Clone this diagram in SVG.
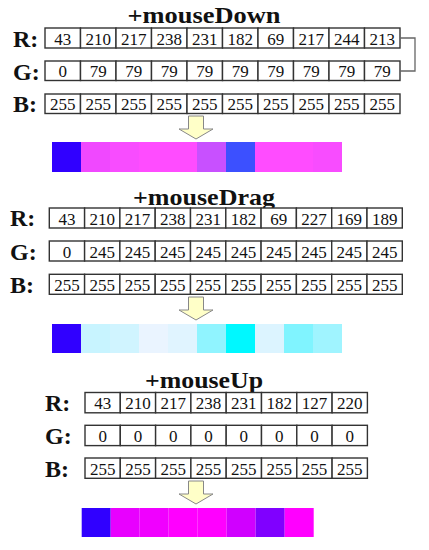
<svg xmlns="http://www.w3.org/2000/svg" width="429" height="550" viewBox="0 0 429 550">
<style>
.title{font-family:"Liberation Serif","DejaVu Serif",serif;font-weight:bold;font-size:24px;fill:#111;text-anchor:middle}
.lbl{font-family:"Liberation Serif","DejaVu Serif",serif;font-weight:bold;font-size:24px;fill:#111}
.num{font-family:"Liberation Serif","DejaVu Serif",serif;font-size:17px;fill:#111;text-anchor:middle}
.cell{fill:#fff;stroke:#333;stroke-width:1.4}
.arrow{fill:#ffffc8;stroke:#888;stroke-width:1}
.conn{fill:none;stroke:#666;stroke-width:1.3}
</style>
<defs>
<path id="arr" class="arrow" d="M-7.5,0 H7.5 V13 H17 L0,23 L-17,13 H-7.5 Z"/>
</defs>
<rect width="429" height="550" fill="#fff"/>

<!-- Section 1 -->
<g id="s1-title"><text class="title" x="204" y="23" textLength="153" lengthAdjust="spacingAndGlyphs">+mouseDown</text></g>
<g id="s1-R">
<text class="lbl" x="13" y="47">R:</text>
<rect class="cell" x="45" y="28" width="35.5" height="20"/><rect class="cell" x="80.5" y="28" width="35.5" height="20"/><rect class="cell" x="116" y="28" width="35.5" height="20"/><rect class="cell" x="151.5" y="28" width="35.5" height="20"/><rect class="cell" x="187" y="28" width="35.5" height="20"/><rect class="cell" x="222.5" y="28" width="35.5" height="20"/><rect class="cell" x="258" y="28" width="35.5" height="20"/><rect class="cell" x="293.5" y="28" width="35.5" height="20"/><rect class="cell" x="329" y="28" width="35.5" height="20"/><rect class="cell" x="364.5" y="28" width="35.5" height="20"/>
<text class="num" y="44.5"><tspan x="62.75">43</tspan><tspan x="98.25">210</tspan><tspan x="133.75">217</tspan><tspan x="169.25">238</tspan><tspan x="204.75">231</tspan><tspan x="240.25">182</tspan><tspan x="275.75">69</tspan><tspan x="311.25">217</tspan><tspan x="346.75">244</tspan><tspan x="382.25">213</tspan></text>
</g>
<g id="s1-G">
<text class="lbl" x="13" y="79.5">G:</text>
<rect class="cell" x="45" y="61" width="35.5" height="19.5"/><rect class="cell" x="80.5" y="61" width="35.5" height="19.5"/><rect class="cell" x="116" y="61" width="35.5" height="19.5"/><rect class="cell" x="151.5" y="61" width="35.5" height="19.5"/><rect class="cell" x="187" y="61" width="35.5" height="19.5"/><rect class="cell" x="222.5" y="61" width="35.5" height="19.5"/><rect class="cell" x="258" y="61" width="35.5" height="19.5"/><rect class="cell" x="293.5" y="61" width="35.5" height="19.5"/><rect class="cell" x="329" y="61" width="35.5" height="19.5"/><rect class="cell" x="364.5" y="61" width="35.5" height="19.5"/>
<text class="num" y="77"><tspan x="62.75">0</tspan><tspan x="98.25">79</tspan><tspan x="133.75">79</tspan><tspan x="169.25">79</tspan><tspan x="204.75">79</tspan><tspan x="240.25">79</tspan><tspan x="275.75">79</tspan><tspan x="311.25">79</tspan><tspan x="346.75">79</tspan><tspan x="382.25">79</tspan></text>
</g>
<g id="s1-B">
<text class="lbl" x="13" y="112">B:</text>
<rect class="cell" x="45" y="94" width="35.5" height="19.5"/><rect class="cell" x="80.5" y="94" width="35.5" height="19.5"/><rect class="cell" x="116" y="94" width="35.5" height="19.5"/><rect class="cell" x="151.5" y="94" width="35.5" height="19.5"/><rect class="cell" x="187" y="94" width="35.5" height="19.5"/><rect class="cell" x="222.5" y="94" width="35.5" height="19.5"/><rect class="cell" x="258" y="94" width="35.5" height="19.5"/><rect class="cell" x="293.5" y="94" width="35.5" height="19.5"/><rect class="cell" x="329" y="94" width="35.5" height="19.5"/><rect class="cell" x="364.5" y="94" width="35.5" height="19.5"/>
<text class="num" y="110"><tspan x="62.75">255</tspan><tspan x="98.25">255</tspan><tspan x="133.75">255</tspan><tspan x="169.25">255</tspan><tspan x="204.75">255</tspan><tspan x="240.25">255</tspan><tspan x="275.75">255</tspan><tspan x="311.25">255</tspan><tspan x="346.75">255</tspan><tspan x="382.25">255</tspan></text>
</g>
<g id="s1-bar">
<rect x="52" y="142" width="29" height="30" fill="#3000ff"/><rect x="81" y="142" width="29" height="30" fill="#f048ff"/><rect x="110" y="142" width="29" height="30" fill="#f84cff"/><rect x="139" y="142" width="29" height="30" fill="#ff4cff"/><rect x="168" y="142" width="29" height="30" fill="#ff4cff"/><rect x="197" y="142" width="29" height="30" fill="#c850ff"/><rect x="226" y="142" width="29" height="30" fill="#3c50ff"/><rect x="255" y="142" width="29" height="30" fill="#ff4cff"/><rect x="284" y="142" width="29" height="30" fill="#ff4cff"/><rect x="313" y="142" width="29" height="30" fill="#f84cff"/>
</g>

<!-- Section 2 -->
<g id="s2-title"><text class="title" x="204" y="205" textLength="142" lengthAdjust="spacingAndGlyphs">+mouseDrag</text></g>
<g id="s2-R">
<text class="lbl" x="10" y="226">R:</text>
<rect class="cell" x="49.3" y="208" width="35.3" height="20"/><rect class="cell" x="84.6" y="208" width="35.3" height="20"/><rect class="cell" x="119.9" y="208" width="35.3" height="20"/><rect class="cell" x="155.2" y="208" width="35.3" height="20"/><rect class="cell" x="190.5" y="208" width="35.3" height="20"/><rect class="cell" x="225.8" y="208" width="35.3" height="20"/><rect class="cell" x="261.1" y="208" width="35.3" height="20"/><rect class="cell" x="296.4" y="208" width="35.3" height="20"/><rect class="cell" x="331.7" y="208" width="35.3" height="20"/><rect class="cell" x="367" y="208" width="35.3" height="20"/>
<text class="num" y="224.5"><tspan x="66.95">43</tspan><tspan x="102.25">210</tspan><tspan x="137.55">217</tspan><tspan x="172.85">238</tspan><tspan x="208.15">231</tspan><tspan x="243.45">182</tspan><tspan x="278.75">69</tspan><tspan x="314.05">227</tspan><tspan x="349.35">169</tspan><tspan x="384.65">189</tspan></text>
</g>
<g id="s2-G">
<text class="lbl" x="10" y="260">G:</text>
<rect class="cell" x="49.3" y="241" width="35.3" height="20"/><rect class="cell" x="84.6" y="241" width="35.3" height="20"/><rect class="cell" x="119.9" y="241" width="35.3" height="20"/><rect class="cell" x="155.2" y="241" width="35.3" height="20"/><rect class="cell" x="190.5" y="241" width="35.3" height="20"/><rect class="cell" x="225.8" y="241" width="35.3" height="20"/><rect class="cell" x="261.1" y="241" width="35.3" height="20"/><rect class="cell" x="296.4" y="241" width="35.3" height="20"/><rect class="cell" x="331.7" y="241" width="35.3" height="20"/><rect class="cell" x="367" y="241" width="35.3" height="20"/>
<text class="num" y="257.5"><tspan x="66.95">0</tspan><tspan x="102.25">245</tspan><tspan x="137.55">245</tspan><tspan x="172.85">245</tspan><tspan x="208.15">245</tspan><tspan x="243.45">245</tspan><tspan x="278.75">245</tspan><tspan x="314.05">245</tspan><tspan x="349.35">245</tspan><tspan x="384.65">245</tspan></text>
</g>
<g id="s2-B">
<text class="lbl" x="10" y="292.5">B:</text>
<rect class="cell" x="49.3" y="274.3" width="35.3" height="20"/><rect class="cell" x="84.6" y="274.3" width="35.3" height="20"/><rect class="cell" x="119.9" y="274.3" width="35.3" height="20"/><rect class="cell" x="155.2" y="274.3" width="35.3" height="20"/><rect class="cell" x="190.5" y="274.3" width="35.3" height="20"/><rect class="cell" x="225.8" y="274.3" width="35.3" height="20"/><rect class="cell" x="261.1" y="274.3" width="35.3" height="20"/><rect class="cell" x="296.4" y="274.3" width="35.3" height="20"/><rect class="cell" x="331.7" y="274.3" width="35.3" height="20"/><rect class="cell" x="367" y="274.3" width="35.3" height="20"/>
<text class="num" y="290.8"><tspan x="66.95">255</tspan><tspan x="102.25">255</tspan><tspan x="137.55">255</tspan><tspan x="172.85">255</tspan><tspan x="208.15">255</tspan><tspan x="243.45">255</tspan><tspan x="278.75">255</tspan><tspan x="314.05">255</tspan><tspan x="349.35">255</tspan><tspan x="384.65">255</tspan></text>
</g>
<g id="s2-bar">
<rect x="52" y="324" width="29" height="29" fill="#3000ff"/><rect x="81" y="324" width="29" height="29" fill="#c8f4ff"/><rect x="110" y="324" width="29" height="29" fill="#d0f4ff"/><rect x="139" y="324" width="29" height="29" fill="#eaf4ff"/><rect x="168" y="324" width="29" height="29" fill="#e0f4ff"/><rect x="197" y="324" width="29" height="29" fill="#90f4ff"/><rect x="226" y="324" width="29" height="29" fill="#00f8ff"/><rect x="255" y="324" width="29" height="29" fill="#dcf4ff"/><rect x="284" y="324" width="29" height="29" fill="#80f4ff"/><rect x="313" y="324" width="29" height="29" fill="#a0f4ff"/>
</g>

<!-- Section 3 -->
<g id="s3-title"><text class="title" x="204" y="388" textLength="118" lengthAdjust="spacingAndGlyphs">+mouseUp</text></g>
<g id="s3-R">
<text class="lbl" x="45" y="411">R:</text>
<rect class="cell" x="85" y="392.5" width="35.3" height="20.3"/><rect class="cell" x="120.3" y="392.5" width="35.3" height="20.3"/><rect class="cell" x="155.6" y="392.5" width="35.3" height="20.3"/><rect class="cell" x="190.9" y="392.5" width="35.3" height="20.3"/><rect class="cell" x="226.2" y="392.5" width="35.3" height="20.3"/><rect class="cell" x="261.5" y="392.5" width="35.3" height="20.3"/><rect class="cell" x="296.8" y="392.5" width="35.3" height="20.3"/><rect class="cell" x="332.1" y="392.5" width="35.3" height="20.3"/>
<text class="num" y="409"><tspan x="102.65">43</tspan><tspan x="137.95">210</tspan><tspan x="173.25">217</tspan><tspan x="208.55">238</tspan><tspan x="243.85">231</tspan><tspan x="279.15">182</tspan><tspan x="314.45">127</tspan><tspan x="349.75">220</tspan></text>
</g>
<g id="s3-G">
<text class="lbl" x="45" y="444">G:</text>
<rect class="cell" x="85" y="425.3" width="35.3" height="20.3"/><rect class="cell" x="120.3" y="425.3" width="35.3" height="20.3"/><rect class="cell" x="155.6" y="425.3" width="35.3" height="20.3"/><rect class="cell" x="190.9" y="425.3" width="35.3" height="20.3"/><rect class="cell" x="226.2" y="425.3" width="35.3" height="20.3"/><rect class="cell" x="261.5" y="425.3" width="35.3" height="20.3"/><rect class="cell" x="296.8" y="425.3" width="35.3" height="20.3"/><rect class="cell" x="332.1" y="425.3" width="35.3" height="20.3"/>
<text class="num" y="441.8"><tspan x="102.65">0</tspan><tspan x="137.95">0</tspan><tspan x="173.25">0</tspan><tspan x="208.55">0</tspan><tspan x="243.85">0</tspan><tspan x="279.15">0</tspan><tspan x="314.45">0</tspan><tspan x="349.75">0</tspan></text>
</g>
<g id="s3-B">
<text class="lbl" x="45" y="477">B:</text>
<rect class="cell" x="85" y="458" width="35.3" height="20.3"/><rect class="cell" x="120.3" y="458" width="35.3" height="20.3"/><rect class="cell" x="155.6" y="458" width="35.3" height="20.3"/><rect class="cell" x="190.9" y="458" width="35.3" height="20.3"/><rect class="cell" x="226.2" y="458" width="35.3" height="20.3"/><rect class="cell" x="261.5" y="458" width="35.3" height="20.3"/><rect class="cell" x="296.8" y="458" width="35.3" height="20.3"/><rect class="cell" x="332.1" y="458" width="35.3" height="20.3"/>
<text class="num" y="474.5"><tspan x="102.65">255</tspan><tspan x="137.95">255</tspan><tspan x="173.25">255</tspan><tspan x="208.55">255</tspan><tspan x="243.85">255</tspan><tspan x="279.15">255</tspan><tspan x="314.45">255</tspan><tspan x="349.75">255</tspan></text>
</g>
<g id="s3-bar">
<rect x="81.7" y="508" width="29" height="29" fill="#3000ff"/><rect x="110.7" y="508" width="29" height="29" fill="#e800ff"/><rect x="139.7" y="508" width="29" height="29" fill="#f000ff"/><rect x="168.7" y="508" width="29" height="29" fill="#ff00ff"/><rect x="197.7" y="508" width="29" height="29" fill="#ff00ff"/><rect x="226.7" y="508" width="29" height="29" fill="#d000ff"/><rect x="255.7" y="508" width="29" height="29" fill="#8000ff"/><rect x="284.7" y="508" width="29" height="29" fill="#ff00ff"/>
</g>

<g id="connectors">
<path class="conn" d="M400,38 H415 V71 H400"/>
<use href="#arr" x="196" y="116"/>
<use href="#arr" x="196" y="297"/>
<use href="#arr" x="196" y="481"/>
</g>
</svg>
